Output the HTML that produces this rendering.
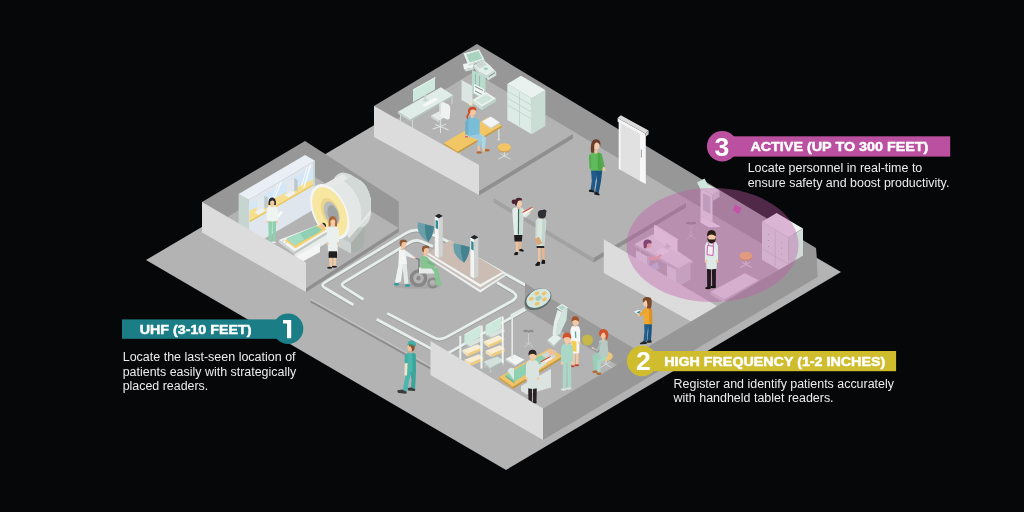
<!DOCTYPE html>
<html><head><meta charset="utf-8"><title>RFID hospital</title>
<style>
html,body{margin:0;padding:0;background:#050708;}
body{width:1024px;height:512px;overflow:hidden;font-family:"Liberation Sans",sans-serif;}
svg{display:block}
text{font-family:"Liberation Sans",sans-serif;}
</style></head><body>
<svg width="1024" height="512" viewBox="0 0 1024 512">
<rect width="1024" height="512" fill="#050708"/>
<polygon points="146.0,260.0 506.0,470.0 841.0,272.0 481.0,62.0" fill="#b3b3b3" />
<polygon points="477.0,44.0 816.0,248.0 817.5,277.0 477.0,74.0" fill="#979797" />
<polygon points="374.0,106.0 477.0,44.0 477.0,74.0 374.0,137.0" fill="#979797" />
<polygon points="202.0,202.0 305.0,141.0 305.0,171.0 202.0,232.0" fill="#979797" />
<polygon points="305.0,141.0 398.8,201.6 398.8,228.0 305.0,171.0" fill="#979797" />
<polygon points="479.0,191.0 573.0,134.0 573.0,138.5 479.0,195.5" fill="#8f8f8f" />
<polygon points="493.5,198.0 593.5,258.0 593.5,262.5 493.5,202.5" fill="#a2a2a2" />
<polygon points="593.5,258.0 686.0,203.0 686.0,207.5 593.5,262.5" fill="#8f8f8f" />
<polygon points="374.0,133.0 477.0,70.0 477.0,74.0 374.0,137.0" fill="#b3b3b3" />
<polygon points="461.5,80.0 472.5,86.0 472.5,106.0 461.5,100.0" fill="#dde5e2" />
<polygon points="472.0,70.0 485.5,77.0 485.5,100.0 472.0,93.0" fill="#b7dccd" />
<polygon points="474.0,84.0 484.0,89.0 484.0,98.0 474.0,93.0" fill="#f2f6f4" />
<polyline points="475.0,86.5 483.0,90.5" fill="none" stroke="#5d6b66" stroke-width="0.8" />
<polyline points="475.0,91.0 483.0,95.0" fill="none" stroke="#5d6b66" stroke-width="0.8" />
<polyline points="475.5,74.0 475.5,84.0" fill="none" stroke="#8fb3a5" stroke-width="0.8" />
<polyline points="479.5,76.0 479.5,86.0" fill="none" stroke="#9aa8a3" stroke-width="0.8" />
<polygon points="472.0,100.0 486.0,92.0 496.0,98.5 482.0,107.0" fill="#e9f2ee" />
<polygon points="475.5,100.5 486.0,94.5 492.5,98.5 482.0,104.5" fill="#cfe3da" />
<polygon points="472.0,100.0 482.0,107.0 482.0,110.0 472.0,103.0" fill="#cfe0d8" />
<polygon points="482.0,107.0 496.0,98.5 496.0,101.5 482.0,110.0" fill="#bcd3c9" />
<polygon points="463.0,64.0 473.6,62.0 473.6,67.5 464.0,69.5" fill="#eef4f2" />
<polygon points="464.0,69.5 473.6,67.5 473.6,69.5 466.0,71.5" fill="#cfdcd7" />
<polygon points="473.6,65.2 483.8,60.2 490.0,65.6 494.7,70.3 486.9,75.8 479.0,71.9" fill="#e3eeea" />
<polygon points="473.6,65.2 479.0,71.9 486.9,75.8 486.9,78.3 479.0,74.4 473.6,67.7" fill="#c7dbd2" />
<polygon points="486.9,75.8 494.7,70.3 496.3,72.0 496.3,75.5 488.0,80.5 486.9,78.3" fill="#d3e2dc" />
<polyline points="488.5,76.8 495.0,72.6" fill="none" stroke="#6f7d78" stroke-width="0.9" />
<polygon points="475.4,64.8 483.0,61.3 486.5,64.8 479.3,68.6" fill="#cbd6d2" />
<ellipse cx="485.8" cy="68.8" rx="2.2" ry="1.2" fill="#9fd0bd" />
<polygon points="463.4,53.5 479.0,49.2 484.5,59.4 468.1,64.5" fill="#e6f0ec" />
<polygon points="466.2,54.4 478.4,51.0 482.4,58.6 469.8,62.6" fill="#a9d4c0" />
<polygon points="468.1,64.5 484.5,59.4 484.8,60.6 468.6,65.8" fill="#c9dcd4" />
<polyline points="400.5,114.0 400.5,122.0" fill="none" stroke="#cfd8d4" stroke-width="1" />
<polyline points="412.5,120.0 412.5,128.0" fill="none" stroke="#cfd8d4" stroke-width="1" />
<polyline points="452.0,96.5 452.0,104.0" fill="none" stroke="#cfd8d4" stroke-width="1" />
<polygon points="397.9,111.8 440.9,87.3 453.2,95.2 410.6,119.6" fill="#dfece8" />
<polygon points="397.9,111.8 410.6,119.6 410.6,121.2 397.9,113.4" fill="#c3d4cd" />
<polygon points="410.6,119.6 453.2,95.2 453.2,96.8 410.6,121.2" fill="#b3c7bf" />
<polygon points="422.0,100.5 426.0,98.3 429.0,100.0 425.0,102.3" fill="#cfdcd7" />
<rect x="424.5" y="95.0" width="1.6" height="6.0" fill="#c5d6cf" />
<polygon points="413.0,89.6 435.0,77.2 435.0,89.6 413.0,102.2" fill="#cde8dd" />
<polygon points="413.0,89.6 435.0,77.2 435.8,77.7 413.8,90.1" fill="#e8f3ef" />
<polygon points="422.5,104.8 435.0,97.6 438.3,99.6 425.8,106.8" fill="#f6f9f8" />
<polyline points="440.5,118.0 440.5,127.0" fill="none" stroke="#d5dcd9" stroke-width="1.4" />
<polyline points="432.5,129.0 440.5,126.5 448.5,130.0" fill="none" stroke="#dfe5e3" stroke-width="1.1" />
<polyline points="435.0,124.5 440.5,126.5 446.0,124.0" fill="none" stroke="#dfe5e3" stroke-width="1.0" />
<polyline points="440.5,126.5 440.5,133.0" fill="none" stroke="#dfe5e3" stroke-width="1.0" />
<polygon points="431.0,115.5 441.0,110.5 449.0,115.0 439.0,120.5" fill="#e4eae8" />
<polygon points="431.0,115.5 439.0,120.5 439.0,122.5 431.0,117.5" fill="#cfd8d5" />
<path d="M439.5,106 Q439,101.5 443,102 L448.5,104.5 Q450.5,105.5 450.3,109 L449.8,117.5 Q449.5,120.5 446,119 L441,116.5 Q439.5,115.5 439.6,113 Z" fill="#eef3f1" />
<path d="M439.5,106 Q439,101.5 443,102 L441.5,103 Q440.5,104 440.7,107 L440.8,114.5 L439.6,113 Z" fill="#d2dbd8" />
<polygon points="531.7,134.2 507.3,119.9 507.3,83.9 531.7,98.2" fill="#dcebe5" />
<polygon points="531.7,134.2 545.4,126.1 545.4,90.1 531.7,98.2" fill="#c9ddd5" />
<polygon points="531.7,98.2 507.3,83.9 521.0,75.8 545.4,90.1" fill="#e9f2ee" />
<polyline points="519.5,126.1 519.5,92.1" fill="none" stroke="#b8cfc6" stroke-width="0.7" />
<polyline points="508.1,105.3 530.9,118.6" fill="none" stroke="#b8cfc6" stroke-width="0.7" />
<polyline points="508.1,98.5 530.9,111.7" fill="none" stroke="#b8cfc6" stroke-width="0.7" />
<polyline points="508.1,91.6 530.9,104.9" fill="none" stroke="#b8cfc6" stroke-width="0.7" />
<polyline points="452.5,149.0 452.5,156.0" fill="none" stroke="#c9cfcc" stroke-width="1.2" />
<polyline points="459.5,152.5 459.5,158.0" fill="none" stroke="#c9cfcc" stroke-width="1.2" />
<polyline points="498.8,127.0 498.8,139.5" fill="none" stroke="#d3d9d6" stroke-width="1.6" />
<ellipse cx="498.8" cy="139.5" rx="1.6" ry="0.9" fill="#d3d9d6" />
<polygon points="443.8,143.0 487.8,117.6 502.0,125.4 457.5,151.8" fill="#f3c665" />
<polygon points="443.8,143.0 457.5,151.8 457.5,153.6 443.8,144.8" fill="#d6a544" />
<polygon points="457.5,151.8 502.0,125.4 502.0,127.2 457.5,153.6" fill="#c99a3c" />
<polygon points="481.9,121.5 490.7,116.6 499.8,122.6 491.2,127.8" fill="#f2f5f4" />
<polygon points="481.9,121.5 491.2,127.8 491.2,129.0 481.9,122.7" fill="#d5dbd9" />
<polygon points="491.2,127.8 499.8,122.6 499.8,123.8 491.2,129.0" fill="#c5cdca" />
<polygon points="471.0,134.0 477.0,131.5 486.0,137.5 485.0,148.5 482.0,149.0 481.5,140.5 473.0,138.0" fill="#a9d6e8" />
<polygon points="468.0,133.0 474.0,130.5 482.0,136.0 480.5,146.0 477.5,146.5 477.5,139.0 469.0,137.0" fill="#9ccbe0" />
<ellipse cx="479.2" cy="152.5" rx="2.8" ry="1.3" fill="#b06a36" />
<ellipse cx="487.0" cy="150.3" rx="2.8" ry="1.3" fill="#b06a36" />
<rect x="477.6" y="146.0" width="2.2" height="5.0" fill="#f1c4a0" />
<rect x="482.6" y="148.0" width="2.2" height="3.5" fill="#f1c4a0" />
<path d="M466,121 Q466,117 470,117 L476,118 Q480,119.5 479.8,123 L479.5,134 L467,136 Z" fill="#79bdd6" />
<polygon points="465.5,121.0 468.5,120.0 468.0,135.0 465.2,135.0" fill="#6aafca" />
<ellipse cx="466.6" cy="136.0" rx="1.4" ry="1.4" fill="#f1c4a0" />
<rect x="465.0" y="136.2" width="3.0" height="1.2" fill="#c8518f" />
<rect x="470.8" y="114.0" width="2.6" height="4.0" fill="#f1c4a0" />
<ellipse cx="472.4" cy="111.6" rx="3.5" ry="3.9" fill="#f3c6a2" />
<path d="M468.2,113 Q466.8,107 472.5,106.8 Q477.5,107 476.2,111 Q473,108.5 470.5,110.5 Q470.5,114 468.8,115 Q467,117.5 468.5,119.5 Q465.8,118.5 466.5,115.5 Z" fill="#c9512e" />
<ellipse cx="470.3" cy="103.8" rx="1.5" ry="1.9" fill="#f3e8b4" />
<polyline points="504.4,148.5 504.4,156.5" fill="none" stroke="#d9dedc" stroke-width="1.3" />
<polyline points="498.4,159.0 504.4,156.0 510.4,159.0" fill="none" stroke="#d9dedc" stroke-width="1" />
<polyline points="500.4,153.5 504.4,156.0 508.4,153.5" fill="none" stroke="#d9dedc" stroke-width="0.9" />
<ellipse cx="504.4" cy="148.3" rx="6.6" ry="4.0" fill="#c99a55" />
<ellipse cx="504.4" cy="147.3" rx="6.6" ry="4.0" fill="#f3c565" />
<polygon points="238.6,194.0 248.6,199.8 248.6,248.0 238.6,242.2" fill="#c7d5d0" />
<polygon points="248.6,199.8 315.0,160.8 315.0,208.8 248.6,248.0" fill="#dfe6ed" />
<polygon points="249.6,204.0 313.2,166.6 313.2,186.0 249.6,222.3" fill="#d4e7f6" />
<polygon points="249.6,210.8 313.2,179.2 313.2,185.6 249.6,222.3" fill="#f7de8c" />
<polygon points="249.6,220.8 313.2,184.4 313.2,185.8 249.6,222.3" fill="#e6c45e" />
<polygon points="256.9,199.8 264.4,195.7 264.4,208.3 256.9,212.3" fill="#e2e8ec" />
<polygon points="264.4,195.7 267.7,197.3 267.7,208.1 264.4,208.3" fill="#bcc7ce" />
<polygon points="254.5,212.5 262.0,208.5 266.0,210.5 258.5,214.8" fill="#eef2f5" />
<polygon points="286.8,182.4 294.3,178.3 294.3,190.9 286.8,194.9" fill="#e2e8ec" />
<polygon points="294.3,178.3 297.6,179.9 297.6,190.7 294.3,190.9" fill="#bcc7ce" />
<polygon points="284.4,195.1 291.9,191.1 295.9,193.1 288.4,197.4" fill="#eef2f5" />
<polygon points="280.4,182.6 282.0,181.6 275.4,197.4 273.8,198.4" fill="#fafdff" />
<polygon points="277.4,184.4 278.4,183.8 273.0,196.8 272.0,197.4" fill="#fafdff" />
<polygon points="309.8,165.2 311.4,164.2 304.6,187.6 303.0,188.6" fill="#fafdff" />
<polygon points="306.6,167.2 307.6,166.6 302.0,186.2 301.0,186.8" fill="#fafdff" />
<polygon points="313.2,161.9 315.0,160.8 315.0,208.8 313.2,209.9" fill="#c9d6d2" />
<polygon points="238.6,194.0 305.1,155.0 315.0,160.8 248.6,199.8" fill="#e9eff4" />
<polygon points="337.5,235.3 351.0,243.0 351.4,253.8 338.2,246.7" fill="#cdd3d0" />
<polygon points="351.0,243.0 365.4,225.6 363.2,247.4 351.4,253.8" fill="#a9b0ac" />
<polygon points="337.5,235.3 352.0,226.0 365.4,225.6 351.0,243.0" fill="#bfc6c2" />
<g transform="translate(351.5,200) skewY(30.3)"><ellipse rx="19.5" ry="24.9" fill="#d9dedb"/></g>
<polygon points="321.5,185.5 343.0,174.0 371.0,198.0 370.5,214.0 349.0,238.0" fill="#e6e9e7" />
<path d="M330.5,188.5 L351.5,176.5 Q372,182 371,209 L349,238 Z" fill="#e3e7e5" />
<path d="M351.5,176.5 Q372,182 371,209 L361,222 Q364,196 344,181 Z" fill="#d3d9d6" />
<g transform="translate(329.8,211.8) skewY(30.3)"><ellipse rx="19.8" ry="25.2" fill="#f4f6f5"/><ellipse rx="17.6" ry="22.6" fill="#f8e7a1"/><ellipse cx="0.5" rx="9.6" ry="12.8" fill="#e9d58c"/><ellipse cx="1.8" cy="0.5" rx="7.8" ry="10.8" fill="#b9bcba"/><ellipse cx="3.2" cy="1" rx="5.6" ry="9" fill="#9ea2a0"/></g>
<polygon points="294.5,252.0 329.6,230.5 329.6,241.0 300.0,259.5 294.5,257.0" fill="#e9eeec" />
<polygon points="296.0,257.0 320.0,243.0 320.0,252.0 302.0,262.0" fill="#f3f6f5" />
<polygon points="278.8,240.0 321.8,223.5 329.6,230.3 294.5,251.8" fill="#f1f4f3" />
<polygon points="278.8,240.0 294.5,251.8 294.5,254.3 278.8,242.5" fill="#cfd6d3" />
<polygon points="294.5,251.8 329.6,230.3 329.6,232.8 294.5,254.3" fill="#bfc8c4" />
<polygon points="284.5,240.3 321.0,224.5 326.5,229.5 295.5,248.3" fill="#f5d06c" />
<polygon points="286.5,238.5 316.0,226.0 322.0,229.5 318.0,233.0 294.0,245.5" fill="#8fd0b4" />
<polygon points="286.5,238.5 300.0,233.0 304.0,239.5 294.0,245.5" fill="#a5dcc4" />
<ellipse cx="322.8" cy="225.8" rx="2.7" ry="2.4" fill="#f0c29c" />
<path d="M322,223 Q326.5,222 326,227.5 Q324.5,225 322,223 Z" fill="#2e2a2a" />
<polyline points="281.0,243.5 284.0,240.0" fill="none" stroke="#d5dbd8" stroke-width="1.2" />
<polyline points="283.5,245.5 286.5,242.0" fill="none" stroke="#d5dbd8" stroke-width="1.2" />
<polygon points="268.3,221.0 272.0,221.0 271.6,243.1 268.8,243.1" fill="#8fd0ae" />
<polygon points="272.4,221.0 276.1,221.0 275.6,242.2 272.8,242.2" fill="#8fd0ae" />
<ellipse cx="269.4" cy="243.3" rx="2.3" ry="0.9" fill="#e6ecea" />
<ellipse cx="273.6" cy="242.4" rx="2.3" ry="0.9" fill="#e6ecea" />
<path d="M267.0,210.0 Q267.0,206.5 269.9,206.3 L274.5,206.3 Q277.4,206.5 277.4,210.0 L276.3,221.0 L272.2,221.6 L268.1,221.0 Z" fill="#eef4f2" />
<polygon points="266.6,209.5 268.6,208.1 268.5,221.0 266.5,221.0" fill="#eef4f2" />
<polygon points="277.8,209.5 275.8,208.1 275.9,221.0 277.9,221.0" fill="#eef4f2" />
<ellipse cx="267.5" cy="221.9" rx="1.0" ry="1.3" fill="#f3caa6" />
<ellipse cx="276.9" cy="221.9" rx="1.0" ry="1.3" fill="#f3caa6" />
<rect x="271.2" y="204.4" width="2.0" height="2.8" fill="#f3caa6" />
<ellipse cx="272.6" cy="202.4" rx="2.9" ry="3.7" fill="#f3caa6" />
<path d="M268.5,205.1 Q267.8,197.5 272.2,197.4 Q276.6,197.5 275.9,205.1 L274.0,205.1 L274.4,201.9 Q273.1,199.2 270.0,201.9 L270.4,205.1 Z" fill="#2b2b30" />
<polygon points="276.5,216.0 281.0,211.0 283.0,212.0 279.0,217.5" fill="#f7faf9" />
<polygon points="328.7,242.5 332.5,242.5 332.2,267.5 329.6,267.5" fill="#f3caa6" />
<polygon points="333.1,242.5 336.9,242.5 336.0,266.4 333.4,266.4" fill="#f3caa6" />
<ellipse cx="329.7" cy="267.7" rx="2.6" ry="1.0" fill="#1e1e1e" />
<ellipse cx="334.4" cy="266.7" rx="2.6" ry="1.0" fill="#1e1e1e" />
<path d="M327.3,230.0 Q327.3,226.1 330.3,225.9 L335.3,225.9 Q338.3,226.1 338.3,230.0 L337.6,252.9 L332.8,253.5 L328.0,252.9 Z" fill="#e9f0ed" />
<polygon points="326.8,229.5 328.9,227.9 328.8,242.5 326.7,242.5" fill="#e9f0ed" />
<polygon points="338.8,229.5 336.7,227.9 336.8,242.5 338.9,242.5" fill="#e9f0ed" />
<ellipse cx="327.7" cy="243.5" rx="1.1" ry="1.5" fill="#f3caa6" />
<ellipse cx="337.9" cy="243.5" rx="1.1" ry="1.5" fill="#f3caa6" />
<rect x="331.7" y="223.8" width="2.3" height="3.1" fill="#f3caa6" />
<ellipse cx="333.2" cy="221.4" rx="3.3" ry="4.2" fill="#f3caa6" />
<path d="M328.6,226.6 Q327.9,216.0 332.8,215.9 Q337.7,216.0 337.0,226.6 L334.9,226.6 L335.2,220.9 Q333.8,217.8 330.4,220.9 L330.7,226.6 Z" fill="#a9683a" />
<rect x="328.6" y="251.3" width="8.4" height="6.5" fill="#1f1f22" />
<polygon points="310.5,298.6 430.5,365.6 430.5,367.3 310.5,300.3" fill="#c2c2c2" />
<polygon points="310.5,300.3 430.5,367.3 430.5,369.6 310.5,302.6" fill="#8d8d8d" />
<polygon points="306.0,288.2 398.8,228.0 398.8,232.0 306.0,292.2" fill="#8f8f8f" />
<path d="M353.5,305 L325,288 Q320,285.3 325,282.3 L406,233.2 Q414,228.2 423,231.4 Q434,235 445,240 L539,292.8 Q547,297.3 539,301.8 L450,352.2 Q444,355.6 438,352.4 L376.6,319.2" fill="none" stroke="#9c9f9e" stroke-width="2.7" stroke-linecap="butt" stroke-linejoin="round" transform="translate(0,1)"/>
<path d="M353.5,305 L325,288 Q320,285.3 325,282.3 L406,233.2 Q414,228.2 423,231.4 Q434,235 445,240 L539,292.8 Q547,297.3 539,301.8 L450,352.2 Q444,355.6 438,352.4 L376.6,319.2" fill="none" stroke="#e7efec" stroke-width="2.7" stroke-linecap="butt" stroke-linejoin="round"/>
<path d="M363.5,299.5 L344,287.2 Q340,284.8 344,282.4 L410.5,242 Q415.5,239 421,241.2 L433,246.5" fill="none" stroke="#9c9f9e" stroke-width="2.7" stroke-linecap="butt" stroke-linejoin="round" transform="translate(0,1)"/>
<path d="M363.5,299.5 L344,287.2 Q340,284.8 344,282.4 L410.5,242 Q415.5,239 421,241.2 L433,246.5" fill="none" stroke="#e7efec" stroke-width="2.7" stroke-linecap="butt" stroke-linejoin="round"/>
<path d="M387.3,313.4 L434,337.6 Q440,340.6 446,337.4 L512,301 Q519.5,296.5 513,292 L497,282.5" fill="none" stroke="#9c9f9e" stroke-width="2.7" stroke-linecap="butt" stroke-linejoin="round" transform="translate(0,1)"/>
<path d="M387.3,313.4 L434,337.6 Q440,340.6 446,337.4 L512,301 Q519.5,296.5 513,292 L497,282.5" fill="none" stroke="#e7efec" stroke-width="2.7" stroke-linecap="butt" stroke-linejoin="round"/>
<polygon points="450.2,240.4 505.9,275.6 480.3,292.5 424.6,256.5" fill="#edf2f0" />
<polygon points="450.2,240.4 504.7,274.4 480.3,289.9 425.8,255.3" fill="#c9bfba" />
<polygon points="450.2,240.4 503.5,273.2 480.3,287.3 427.0,254.1" fill="#f0f4f2" />
<polygon points="450.2,240.4 502.2,271.9 480.3,284.3 428.3,252.8" fill="#cbbdb4" />
<path d="M418.0,222.3 L433.8,226.5 Q433.5,235.3 428.2,242.1 Q415.4,234.1 418.0,222.3 Z" fill="#6a9faa" />
<path d="M425.0,224.2 L433.8,226.5 Q433.5,235.3 428.2,242.1 Q424.5,234.3 425.0,224.2 Z" fill="#45828f" />
<polygon points="434.8,216.0 438.8,218.2 438.8,258.0 434.8,255.8" fill="#f3f5f4" />
<polygon points="438.8,218.2 442.8,216.0 442.8,255.8 438.8,258.0" fill="#cfd4d2" />
<polygon points="434.8,216.0 438.8,213.8 442.8,216.0 438.8,218.2" fill="#1c2226" />
<polygon points="435.6,219.8 438.0,221.1 438.0,229.3 435.6,228.0" fill="#2f8a93" />
<path d="M453.8,242.9 L469.6,247.1 Q469.3,255.9 464.0,262.7 Q451.2,254.7 453.8,242.9 Z" fill="#6a9faa" />
<path d="M460.8,244.8 L469.6,247.1 Q469.3,255.9 464.0,262.7 Q460.3,254.9 460.8,244.8 Z" fill="#45828f" />
<polygon points="470.4,237.2 474.4,239.4 474.4,278.5 470.4,276.3" fill="#f3f5f4" />
<polygon points="474.4,239.4 478.4,237.2 478.4,276.3 474.4,278.5" fill="#cfd4d2" />
<polygon points="470.4,237.2 474.4,235.0 478.4,237.2 474.4,239.4" fill="#1c2226" />
<polygon points="471.2,241.0 473.6,242.3 473.6,250.5 471.2,249.2" fill="#2f8a93" />
<ellipse cx="417.0" cy="286.2" rx="23.0" ry="2.6" fill="#a6a6a6" />
<polygon points="399.0,262.0 403.5,262.0 401.0,281.5 397.0,283.0 395.0,282.0" fill="#eef3f1" />
<polygon points="402.0,262.0 406.5,262.0 408.5,283.5 404.5,284.0" fill="#e2e9e6" />
<ellipse cx="396.5" cy="284.3" rx="2.8" ry="1.2" fill="#2f9aa0" />
<ellipse cx="407.5" cy="285.5" rx="2.8" ry="1.2" fill="#2f9aa0" />
<path d="M399,250 Q402,248.5 405.5,250 L407,264 L398.5,264.5 Z" fill="#f1f5f4" />
<polygon points="404.5,251.5 406.5,251.0 414.5,257.0 414.0,258.8 405.0,255.5" fill="#e8eeec" />
<ellipse cx="415.0" cy="258.0" rx="1.2" ry="1.2" fill="#f1c4a0" />
<rect x="401.2" y="247.0" width="2.4" height="3.2" fill="#f1c4a0" />
<ellipse cx="403.2" cy="244.2" rx="3.3" ry="3.7" fill="#f3c6a2" />
<path d="M399.6,244 Q399,239.5 403.5,239.6 Q407.5,240 406.8,242.4 Q403.5,241.5 401.8,243 L401.3,246.5 Q399.9,246 399.6,244 Z" fill="#8a5a3a" />
<ellipse cx="418.5" cy="278.2" rx="7.1" ry="7.1" fill="none" stroke="#878787" stroke-width="3.5"/>
<ellipse cx="418.5" cy="278.2" rx="2.2" ry="2.2" fill="#8b8b8b" />
<ellipse cx="432.8" cy="283.0" rx="4.3" ry="4.3" fill="none" stroke="#8b8b8b" stroke-width="2.4"/>
<polyline points="415.5,258.5 419.0,259.2 419.0,272.0" fill="none" stroke="#6f7574" stroke-width="1.2" />
<polygon points="419.0,267.5 436.0,267.5 436.0,273.5 419.0,273.5" fill="#e6ebea" />
<polyline points="436.0,273.5 436.5,281.0" fill="none" stroke="#9a9f9d" stroke-width="1" />
<polygon points="431.0,268.0 437.5,268.0 441.0,282.5 442.5,285.2 436.5,285.5 434.0,272.0" fill="#86c592" />
<path d="M420.5,257 Q424,254.5 428,257.5 L433.5,266 L436,268.5 L421,268.5 Z" fill="#86c592" />
<polygon points="428.0,260.0 435.5,264.5 434.8,266.3 427.0,263.5" fill="#79b886" />
<rect x="423.6" y="252.8" width="2.6" height="3.4" fill="#f1c4a0" />
<ellipse cx="425.6" cy="250.2" rx="3.3" ry="3.7" fill="#f3c6a2" />
<path d="M422,250 Q421.3,245.5 426,245.6 Q430,246 429.2,248.5 Q426,247.5 424.2,249 L423.8,252.6 Q422.2,252 422,250 Z" fill="#8a5a3a" />
<polygon points="515.6,241.0 518.6,241.0 518.2,252.6 516.0,252.6" fill="#eec3a0" />
<polygon points="519.0,241.0 521.6,241.0 521.4,249.2 519.4,249.2" fill="#e6b791" />
<polygon points="514.2,253.4 516.0,251.8 518.4,252.6 517.6,255.0 514.4,255.2" fill="#17171a" />
<polygon points="519.2,249.4 521.6,248.8 523.8,250.6 523.4,251.8 519.4,251.0" fill="#17171a" />
<polygon points="514.0,234.6 522.4,234.6 521.8,241.6 514.6,241.6" fill="#1c1c1f" />
<path d="M512.3,210.8 Q512.4,207.8 515.4,207.5 L520.6,207.4 Q523.6,207.8 523.8,210.8 L522.6,235 L514,235 Z" fill="#e3ece8" />
<polygon points="519.4,207.5 523.2,208.6 522.6,235.0 519.2,235.0" fill="#cbdad3" />
<polyline points="518.6,208.6 518.4,234.6" fill="none" stroke="#2f6d58" stroke-width="1.2" />
<polygon points="521.4,209.6 523.8,209.2 525.6,214.6 529.2,211.6 530.2,213.4 525.6,217.8 523.4,216.6" fill="#dbe6e1" />
<ellipse cx="529.8" cy="212.2" rx="1.3" ry="1.1" fill="#eec3a0" />
<polygon points="522.6,212.4 532.4,207.2 533.4,208.8 524.0,215.8" fill="#f8f4ef" />
<polyline points="522.6,212.4 532.4,207.2" fill="none" stroke="#d2503a" stroke-width="1.1" />
<rect x="517.4" y="205.8" width="2.6" height="3.0" fill="#e8bb95" />
<ellipse cx="519.2" cy="203.6" rx="2.7" ry="3.4" fill="#f3cdae" />
<path d="M514.6,203.6 Q513.8,198.4 518.8,197.8 Q522.6,198 522.2,200.6 Q519.6,199.8 517.8,201.4 Q516.8,204.4 516.2,206 Q514.8,205.4 514.6,203.6 Z" fill="#4a2231" />
<ellipse cx="513.8" cy="201.8" rx="2.2" ry="2.2" fill="#4a2231" />
<polygon points="537.9,247.6 540.8,247.6 540.2,262.4 538.2,262.4" fill="#eec3a0" />
<polygon points="541.9,247.6 544.9,247.6 544.4,260.6 542.4,260.6" fill="#e6b791" />
<polygon points="535.4,264.4 538.0,261.4 540.2,262.2 539.6,265.8 535.6,266.0" fill="#17171a" />
<polygon points="541.4,262.0 542.6,259.4 545.0,260.2 545.2,263.8 541.6,264.0" fill="#17171a" />
<path d="M536,221.6 Q536.2,218.6 539,218.4 L543.4,218.4 Q546.2,218.8 546.3,221.8 L544.2,246.4 L537,246.4 Z" fill="#d8e6e0" />
<polygon points="542.4,218.4 545.8,219.4 544.2,246.4 541.6,246.4" fill="#c3d5cd" />
<rect x="536.6" y="246.0" width="7.6" height="2.0" fill="#24262a" />
<polygon points="534.4,239.0 538.8,236.8 542.2,243.0 538.0,245.4" fill="#d9a773" />
<polygon points="535.6,221.4 537.6,220.6 537.4,238.0 535.4,238.6" fill="#cddcd5" />
<rect x="539.8" y="216.4" width="2.6" height="2.6" fill="#e8bb95" />
<path d="M537.8,214.6 Q537.4,210 541.8,210 Q546.4,210.4 546,215 Q545.8,218 543.6,218.4 L540,218.2 Q538,217.6 537.8,214.6 Z" fill="#2c2f33" />
<ellipse cx="544.2" cy="211.4" rx="2.3" ry="1.9" fill="#2c2f33" />
<polygon points="618.8,120.5 640.0,132.2 640.0,180.9 618.8,169.0" fill="#e1e1e1" />
<polygon points="640.0,132.2 645.8,135.5 645.8,184.0 640.0,180.9" fill="#f7f7f7" />
<polygon points="618.8,120.5 620.6,121.5 620.6,170.0 618.8,169.0" fill="#f7f7f7" />
<polygon points="617.6,118.0 645.4,133.4 645.4,137.0 617.6,121.6" fill="#f4f4f4" />
<polygon points="617.6,118.0 620.8,115.2 648.6,130.6 645.4,133.4" fill="#dadada" />
<polygon points="645.4,133.4 648.6,130.6 648.6,134.2 645.4,137.0" fill="#c9c9c9" />
<rect x="640.8" y="149.5" width="1.0" height="8.0" fill="#9b9b9b" />
<polygon points="591.0,170.0 597.5,170.0 595.5,182.0 594.2,191.5 590.4,190.5 591.8,181.0" fill="#1f5c8c" />
<polygon points="595.5,170.0 602.3,170.0 601.0,181.0 598.6,194.0 595.0,193.0 597.0,181.0" fill="#1a5280" />
<polygon points="588.8,190.0 591.5,189.5 594.6,191.2 594.4,192.6 589.2,191.8" fill="#1b1b1d" />
<polygon points="594.0,192.5 596.5,192.0 599.6,194.0 599.3,195.4 594.4,194.6" fill="#1b1b1d" />
<path d="M589.6,156.5 Q589.6,153.2 593,152.8 L598.5,152.6 Q601.6,153 601.8,156 L602.4,170.6 L590.4,170.8 Z" fill="#60b95a" />
<polygon points="597.5,152.8 601.6,154.0 602.4,170.6 598.0,170.7" fill="#4fa64a" />
<polygon points="600.2,154.5 602.0,155.0 604.8,166.8 602.6,167.6 600.2,160.0" fill="#55ad50" />
<ellipse cx="604.0" cy="169.3" rx="1.4" ry="2.2" fill="#f0c9a8" />
<polygon points="589.0,155.0 591.0,154.6 591.4,168.0 589.4,168.5" fill="#55ad50" />
<rect x="594.6" y="149.5" width="2.8" height="4.0" fill="#eec3a0" />
<ellipse cx="596.6" cy="146.0" rx="2.9" ry="3.6" fill="#f3cdae" />
<path d="M591,152.6 Q589.8,139 596,139.2 Q601.6,139.4 600.4,146.5 Q599.6,142.5 596.4,142.2 Q594,143 594.2,147.5 Q594.5,151.5 593.6,153 Z" fill="#6b3d2a" />
<polygon points="406.0,371.0 411.5,371.0 408.8,382.0 407.2,391.6 402.6,390.6 404.6,381.0" fill="#4bb6ad" />
<polygon points="410.0,371.0 415.9,371.0 415.6,381.0 415.0,389.6 410.6,389.0 411.6,380.0" fill="#3da49c" />
<polygon points="397.0,390.6 402.0,389.4 406.8,391.8 406.2,393.7 398.4,393.1" fill="#3a3a3a" />
<polygon points="407.6,388.0 411.0,387.4 415.4,389.3 414.9,391.0 408.1,390.4" fill="#3a3a3a" />
<path d="M405.8,356 Q406,352.8 409.5,352.6 L413,352.8 Q415.8,353.3 415.9,356.5 L416,372 L405.8,372 Z" fill="#4bb6ad" />
<polygon points="412.2,352.8 415.6,353.8 416.0,372.0 412.6,372.0" fill="#3da49c" />
<polygon points="404.6,355.6 407.4,354.0 407.8,363.2 404.8,363.6" fill="#43ada4" />
<polygon points="404.7,363.4 407.6,363.0 407.0,375.6 404.5,375.6" fill="#f5e3c8" />
<rect x="409.3" y="349.6" width="2.6" height="3.6" fill="#e2ad82" />
<ellipse cx="410.4" cy="347.7" rx="3.0" ry="3.6" fill="#f0c29c" />
<path d="M409,346.2 Q408.6,343 412,343.2 Q415.2,343.6 414.7,348 Q414.3,351.6 411.6,351.4 Q412.2,348.2 410.6,346.6 Z" fill="#8a5030" />
<path d="M407.5,344.8 Q407.3,340.5 412,340.7 Q416.3,341.1 415.9,346 Q411.6,343.4 407.5,344.8 Z" fill="#3fb0a8" />
<polyline points="407.7,344.6 415.8,345.8" fill="none" stroke="#2f9a92" stroke-width="0.8" />
<polygon points="700.5,188.5 708.0,184.5 719.5,190.5 712.5,195.0" fill="#dfe9e6" />
<polygon points="700.5,188.5 712.5,195.0 712.5,222.0 700.5,216.0" fill="#e6eeeb" />
<polygon points="703.0,193.0 710.5,197.0 710.5,214.0 703.0,210.0" fill="#bfc9c6" />
<polygon points="712.5,195.0 719.5,190.5 719.5,197.0 712.5,201.0" fill="#ccd8d4" />
<polygon points="700.5,216.0 712.5,222.0 721.0,227.0 709.0,227.5 700.5,222.5" fill="#eef3f1" />
<polygon points="697.0,182.5 704.5,178.5 709.0,187.0 701.5,191.0" fill="#cfe6dc" />
<polygon points="735.0,204.5 741.5,208.0 739.0,214.0 732.8,210.5" fill="#c24fa9" />
<polygon points="634.5,244.0 653.0,234.2 693.1,261.5 679.5,269.3" fill="#e4e9e7" />
<polygon points="634.5,244.0 679.5,269.3 679.5,271.3 634.5,246.0" fill="#c7cfcc" />
<polygon points="679.5,269.3 693.1,261.5 693.1,263.5 679.5,271.3" fill="#b7c0bc" />
<polygon points="676.0,269.5 690.5,261.5 690.5,279.5 676.0,287.5" fill="#c9d0cd" />
<polygon points="667.0,265.0 676.0,269.5 676.0,287.5 667.0,283.0" fill="#dfe5e3" />
<polyline points="640.0,249.5 640.0,262.0" fill="none" stroke="#cfd5d3" stroke-width="1" />
<polygon points="654.0,225.4 677.5,240.0 677.5,252.7 654.0,238.0" fill="#eef3f1" />
<polygon points="654.0,225.4 655.0,224.8 678.5,239.4 677.5,240.0" fill="#f3f6f5" />
<polygon points="663.5,247.0 668.0,244.5 671.5,246.5 667.0,249.0" fill="#d4dbd8" />
<rect x="666.2" y="243.0" width="1.6" height="5.0" fill="#cfd6d3" />
<polygon points="655.5,251.5 663.0,247.5 669.5,251.5 662.0,255.5" fill="#f4f7f6" />
<polygon points="636.0,250.5 647.5,256.5 647.5,269.5 636.0,263.5" fill="#e3e8e6" />
<polygon points="647.5,256.5 649.5,255.3 649.5,268.3 647.5,269.5" fill="#c8cfcc" />
<polygon points="650.0,256.0 656.0,257.5 661.0,254.0 661.8,255.8 656.5,260.2 650.0,260.0" fill="#f0b59e" />
<polygon points="649.0,266.5 657.5,262.0 659.0,268.5 651.0,272.5" fill="#b9d0e0" />
<ellipse cx="647.6" cy="244.6" rx="3.6" ry="3.8" fill="#f1c4a0" />
<path d="M643.5,245.5 Q642.5,239.5 648,239.6 Q652.5,240 651.4,243.6 Q648.5,242.5 647,244.2 Q647,248.5 644.8,248.6 Q643.4,247.8 643.5,245.5 Z" fill="#5a3752" />
<polyline points="691.0,224.0 691.0,236.0" fill="none" stroke="#c9cccb" stroke-width="1" />
<polyline points="686.5,239.0 691.0,236.0 695.5,239.0" fill="none" stroke="#c9cccb" stroke-width="1" />
<polyline points="688.0,234.5 691.0,236.0 694.0,234.5" fill="none" stroke="#c9cccb" stroke-width="0.8" />
<ellipse cx="688.4" cy="223.0" rx="2.6" ry="1.3" fill="#8e8e8e" />
<ellipse cx="693.6" cy="223.0" rx="2.6" ry="1.3" fill="#8e8e8e" />
<rect x="690.4" y="223.0" width="1.2" height="2.0" fill="#8e8e8e" />
<polyline points="745.9,257.0 745.9,265.0" fill="none" stroke="#e3e6e5" stroke-width="1.3" />
<polyline points="739.9,267.5 745.9,264.5 751.9,267.5" fill="none" stroke="#e3e6e5" stroke-width="1" />
<polyline points="741.9,262.0 745.9,264.5 749.9,262.0" fill="none" stroke="#e3e6e5" stroke-width="0.9" />
<ellipse cx="745.9" cy="256.8" rx="6.6" ry="4.0" fill="#c99a55" />
<ellipse cx="745.9" cy="255.8" rx="6.6" ry="4.0" fill="#f3c565" />
<polygon points="788.4,275.2 762.0,259.8 762.0,221.8 788.4,237.2" fill="#dfe9e6" />
<polygon points="788.4,275.2 803.0,266.6 803.0,228.6 788.4,237.2" fill="#cfdcd8" />
<polygon points="788.4,237.2 762.0,221.8 776.6,213.1 803.0,228.6" fill="#ecf3f0" />
<polyline points="775.2,266.5 775.2,230.5" fill="none" stroke="#b8cfc6" stroke-width="0.7" />
<polyline points="762.8,249.2 787.6,263.7" fill="none" stroke="#b8cfc6" stroke-width="0.7" />
<ellipse cx="768.5" cy="246.5" rx="0.5" ry="0.5" fill="#7fa89a" />
<ellipse cx="781.5" cy="254.0" rx="0.5" ry="0.5" fill="#7fa89a" />
<ellipse cx="768.5" cy="240.5" rx="0.5" ry="0.5" fill="#7fa89a" />
<ellipse cx="781.5" cy="248.0" rx="0.5" ry="0.5" fill="#7fa89a" />
<ellipse cx="768.5" cy="234.5" rx="0.5" ry="0.5" fill="#7fa89a" />
<ellipse cx="781.5" cy="242.0" rx="0.5" ry="0.5" fill="#7fa89a" />
<polygon points="710.7,291.8 744.9,273.2 758.6,280.2 724.4,299.5" fill="#e5e8e7" />
<polygon points="710.7,291.8 724.4,299.5 724.4,302.5 710.7,294.8" fill="#cdd2d0" />
<polygon points="724.4,299.5 758.6,280.2 758.6,283.2 724.4,302.5" fill="#bfc5c2" />
<polygon points="525.0,283.0 640.0,352.0 640.0,379.0 525.0,309.0" fill="#9a9a9a" />
<polygon points="505.4,359.0 514.3,354.5 524.5,359.7 515.7,365.2" fill="#f2f5f4" />
<polygon points="505.4,359.0 515.7,365.2 515.7,366.6 505.4,360.4" fill="#cfd5d3" />
<polyline points="512.2,315.5 512.2,359.0" fill="none" stroke="#e3e9e7" stroke-width="1.6" />
<polygon points="510.6,314.3 524.5,306.8 524.5,309.8 510.6,317.3" fill="#dfe9e5" />
<g transform="translate(538,299.2) rotate(-28) scale(1.13)"><ellipse rx="12.6" ry="8.6" fill="#5f6c6c"/><ellipse cx="0.8" cy="-0.6" rx="11.4" ry="7.6" fill="#d3e7e0"/><ellipse cx="0.8" cy="-0.6" rx="3" ry="2" fill="#a9cfc2"/><ellipse cx="-5" cy="-3" rx="2.3" ry="1.5" fill="#f1c468"/><ellipse cx="1.5" cy="-5" rx="2.3" ry="1.5" fill="#f1c468"/><ellipse cx="7.2" cy="-2" rx="2.3" ry="1.5" fill="#f1c468"/><ellipse cx="5" cy="2.8" rx="2.3" ry="1.5" fill="#f1c468"/><ellipse cx="-2.5" cy="3.2" rx="2.3" ry="1.5" fill="#f1c468"/></g>
<polygon points="547.5,340.0 555.0,333.8 561.3,338.0 553.8,345.5" fill="#e3efeb" />
<polygon points="547.5,340.0 553.8,345.5 553.8,347.0 547.5,341.5" fill="#c1d4cc" />
<polygon points="553.8,345.5 561.3,338.0 561.3,339.5 553.8,347.0" fill="#b3c8c0" />
<polygon points="562.0,312.0 567.5,308.5 566.5,320.0 560.0,333.8 555.5,336.3 557.5,323.8" fill="#cfe4dc" />
<polygon points="557.5,310.0 562.0,312.0 557.5,323.8 555.5,336.3 552.5,334.5 554.0,322.0" fill="#e4efeb" />
<polygon points="556.3,307.5 562.0,303.8 568.0,307.5 562.5,312.0" fill="#e1ede9" />
<polygon points="558.2,307.6 562.0,305.2 565.8,307.6 562.3,310.4" fill="#b3d5c9" />
<polyline points="528.5,332.0 528.5,344.0" fill="none" stroke="#c9cccb" stroke-width="1" />
<polyline points="524.0,347.0 528.5,344.0 533.0,347.0" fill="none" stroke="#c9cccb" stroke-width="1" />
<polyline points="525.5,342.5 528.5,344.0 531.5,342.5" fill="none" stroke="#c9cccb" stroke-width="0.8" />
<ellipse cx="525.9" cy="331.0" rx="2.6" ry="1.3" fill="#8e8e8e" />
<ellipse cx="531.1" cy="331.0" rx="2.6" ry="1.3" fill="#8e8e8e" />
<rect x="527.9" y="331.0" width="1.2" height="2.0" fill="#8e8e8e" />
<polyline points="460.3,335.8 460.3,359.5" fill="none" stroke="#e9f1ee" stroke-width="2" />
<polygon points="464.4,359.7 478.7,354.2 483.5,357.7 470.5,363.1" fill="#f8edd2" />
<polygon points="464.4,359.7 470.5,363.1 470.5,366.0 464.4,362.4" fill="#f3e2b8" />
<polygon points="470.5,363.1 483.5,357.7 483.5,360.6 470.5,366.0" fill="#f0cd7c" />
<polygon points="461.5,350.8 477.4,344.2 483.6,347.8 467.8,354.6" fill="#e3eeea" />
<polygon points="463.0,350.1 477.4,344.7 482.1,347.4 467.8,353.6" fill="#f8edd2" />
<polygon points="463.0,350.1 467.8,353.6 467.8,356.4 463.0,352.8" fill="#f3e2b8" />
<polygon points="467.8,353.6 482.1,347.4 482.1,350.2 467.8,356.4" fill="#f0cd7c" />
<polygon points="465.5,343.5 480.5,337.5 484.0,339.8 470.5,346.5" fill="#d7e4df" />
<polygon points="465.5,343.5 470.5,346.5 470.5,347.8 465.5,344.8" fill="#bdd0c8" />
<polygon points="464.4,334.4 480.1,325.5 480.1,337.1 464.4,344.7" fill="#cde8dd" />
<polygon points="464.4,334.4 480.1,325.5 480.8,326.0 465.1,334.9" fill="#e8f4ef" />
<polyline points="481.5,325.5 481.5,368.6" fill="none" stroke="#eef4f2" stroke-width="2" />
<polyline points="481.5,326.9 481.5,350.6" fill="none" stroke="#e9f1ee" stroke-width="2" />
<polygon points="483.7,361.4 497.4,356.6 504.2,360.6 489.9,368.2" fill="#d3e0db" />
<polygon points="483.7,361.4 489.9,368.2 489.9,369.8 483.7,363.0" fill="#b9cbc4" />
<polygon points="489.9,368.2 504.2,360.6 504.2,362.2 489.9,369.8" fill="#a9bdb5" />
<polyline points="485.2,364.1 485.2,367.6" fill="none" stroke="#c9d6d1" stroke-width="1" />
<polyline points="490.7,369.6 490.7,372.6" fill="none" stroke="#c9d6d1" stroke-width="1" />
<polyline points="503.2,362.1 503.2,365.6" fill="none" stroke="#c9d6d1" stroke-width="1" />
<polygon points="485.6,350.8 499.9,345.3 504.7,348.8 491.7,354.2" fill="#f8edd2" />
<polygon points="485.6,350.8 491.7,354.2 491.7,357.1 485.6,353.5" fill="#f3e2b8" />
<polygon points="491.7,354.2 504.7,348.8 504.7,351.7 491.7,357.1" fill="#f0cd7c" />
<polygon points="482.7,341.9 498.6,335.3 504.8,338.9 489.0,345.7" fill="#e3eeea" />
<polygon points="484.2,341.2 498.6,335.8 503.3,338.5 489.0,344.7" fill="#f8edd2" />
<polygon points="484.2,341.2 489.0,344.7 489.0,347.5 484.2,343.9" fill="#f3e2b8" />
<polygon points="489.0,344.7 503.3,338.5 503.3,341.3 489.0,347.5" fill="#f0cd7c" />
<polygon points="486.7,334.6 501.7,328.6 505.2,330.9 491.7,337.6" fill="#d7e4df" />
<polygon points="486.7,334.6 491.7,337.6 491.7,338.9 486.7,335.9" fill="#bdd0c8" />
<polygon points="485.6,325.5 501.3,316.6 501.3,328.2 485.6,335.8" fill="#cde8dd" />
<polygon points="485.6,325.5 501.3,316.6 502.0,317.1 486.3,326.0" fill="#e8f4ef" />
<polyline points="502.7,316.6 502.7,363.1" fill="none" stroke="#eef4f2" stroke-width="2" />
<polygon points="521.0,386.0 551.0,369.0 551.0,387.5 527.0,394.5 521.0,391.0" fill="#dde3e1" />
<polygon points="499.2,377.0 550.0,348.2 562.7,356.2 512.9,386.8" fill="#f0c467" />
<polygon points="499.2,377.0 512.9,386.8 512.9,389.0 499.2,379.2" fill="#d6a646" />
<polygon points="512.9,386.8 562.7,356.2 562.7,358.4 512.9,389.0" fill="#c7983d" />
<polygon points="505.5,375.0 541.0,355.0 550.0,360.5 514.5,381.5" fill="#8fd0b2" />
<polygon points="505.5,375.0 514.5,381.5 514.5,383.5 505.5,377.0" fill="#73b597" />
<path d="M507.5,371 Q510,366 514,368.5 L514,380 Z" fill="#d9ebe4" />
<polygon points="541.0,355.0 548.0,351.0 557.0,356.5 550.0,360.5" fill="#cfd8d5" />
<ellipse cx="551.5" cy="352.2" rx="3.3" ry="2.8" fill="#f1c09a" />
<path d="M553.5,349.5 Q557.5,350.5 556,354.5 Q555.5,351.5 553.5,349.5 Z" fill="#c9cfcc" />
<polygon points="571.9,342.0 575.0,342.0 574.7,366.0 572.2,366.0" fill="#f3caa6" />
<polygon points="575.5,342.0 578.7,342.0 578.4,365.0 575.9,365.0" fill="#f3caa6" />
<ellipse cx="572.3" cy="366.2" rx="2.5" ry="1.0" fill="#c2402f" />
<ellipse cx="576.8" cy="365.2" rx="2.5" ry="1.0" fill="#c2402f" />
<path d="M570.8,330.0 Q570.8,326.2 573.3,326.0 L577.3,326.0 Q579.8,326.2 579.8,330.0 L579.2,353.0 L575.3,353.6 L571.4,353.0 Z" fill="#f4f7f6" />
<polygon points="570.5,329.5 572.2,328.0 572.1,342.0 570.4,342.0" fill="#f4f7f6" />
<polygon points="580.1,329.5 578.4,328.0 578.5,342.0 580.2,342.0" fill="#f4f7f6" />
<ellipse cx="571.2" cy="343.0" rx="1.1" ry="1.4" fill="#f3caa6" />
<ellipse cx="579.4" cy="343.0" rx="1.1" ry="1.4" fill="#f3caa6" />
<rect x="574.2" y="324.0" width="2.2" height="3.0" fill="#f3caa6" />
<ellipse cx="575.7" cy="321.8" rx="3.2" ry="4.0" fill="#f3caa6" />
<path d="M571.6,321.8 Q571.0,316.2 575.3,316.2 Q579.5,316.2 579.0,321.8 Q575.3,318.2 571.6,321.8 Z" fill="#a5512d" />
<polyline points="575.5,331.5 575.8,338.0" fill="none" stroke="#49a7a0" stroke-width="1.2" />
<polygon points="572.0,340.5 576.5,341.5 576.5,352.0 572.0,351.0" fill="#f2cf52" />
<polygon points="562.9,362.0 566.7,362.0 566.3,389.4 562.8,389.4" fill="#a9d8c6" />
<polygon points="567.3,362.0 571.1,362.0 571.2,388.2 567.7,388.2" fill="#a9d8c6" />
<ellipse cx="563.6" cy="389.6" rx="2.9" ry="1.1" fill="#dfe8e5" />
<ellipse cx="568.7" cy="388.5" rx="2.9" ry="1.1" fill="#dfe8e5" />
<path d="M561.6,348.3 Q561.6,344.0 564.6,343.8 L569.4,343.8 Q572.4,344.0 572.4,348.3 L571.3,362.0 L567.0,362.7 L562.7,362.0 Z" fill="#a9d8c6" />
<polygon points="561.1,347.8 563.2,346.0 563.1,362.0 561.0,362.0" fill="#a9d8c6" />
<polygon points="572.9,347.8 570.8,346.0 570.9,362.0 573.0,362.0" fill="#a9d8c6" />
<ellipse cx="562.0" cy="363.1" rx="1.3" ry="1.6" fill="#f3caa6" />
<ellipse cx="572.0" cy="363.1" rx="1.3" ry="1.6" fill="#f3caa6" />
<rect x="565.7" y="341.5" width="2.5" height="3.4" fill="#f3caa6" />
<ellipse cx="567.5" cy="338.9" rx="3.6" ry="4.6" fill="#f3caa6" />
<path d="M562.8,338.9 Q562.2,332.6 567.0,332.6 Q571.8,332.6 571.2,338.9 Q567.0,334.9 562.8,338.9 Z" fill="#d0512c" />
<g transform="translate(13,-0.5)">
<polyline points="593.0,357.5 593.0,365.5" fill="none" stroke="#d5dbd9" stroke-width="1.3" />
<polyline points="587.0,368.0 593.0,365.0 599.0,368.0" fill="none" stroke="#d5dbd9" stroke-width="1" />
<polyline points="589.0,362.5 593.0,365.0 597.0,362.5" fill="none" stroke="#d5dbd9" stroke-width="0.9" />
<ellipse cx="593.0" cy="357.3" rx="6.6" ry="4.0" fill="#efc777" />
<ellipse cx="593.0" cy="356.3" rx="6.6" ry="4.0" fill="#efc777" />
<polygon points="583.5,357.5 590.0,354.0 594.0,356.5 593.0,360.0 588.0,362.5 587.5,372.0 584.0,373.0" fill="#a9d8c6" />
<polygon points="579.5,356.0 586.0,352.5 590.0,355.0 589.0,358.5 584.5,361.0 584.0,370.0 580.5,371.0" fill="#9ccdb9" />
<ellipse cx="582.0" cy="372.3" rx="2.6" ry="1.2" fill="#b5652f" />
<ellipse cx="585.8" cy="374.3" rx="2.6" ry="1.2" fill="#b5652f" />
<path d="M586,341.5 Q590,339 594.5,341.5 L595.5,356.5 L586.5,358 Z" fill="#b9c9c4" />
<polygon points="586.5,343.5 588.5,343.0 584.5,352.0 580.0,349.5 580.8,348.0 584.0,349.5" fill="#a9bbb5" />
<ellipse cx="579.8" cy="348.5" rx="1.2" ry="1.0" fill="#f1c4a0" />
<rect x="589.0" y="337.5" width="2.6" height="3.5" fill="#f1c4a0" />
<ellipse cx="590.0" cy="334.5" rx="3.5" ry="3.9" fill="#f3c6a2" />
<path d="M586.3,336 Q585,329.5 590.5,329.5 Q596.5,330 595,337.5 Q594.5,340.5 592.8,341 Q593.5,335.5 591,333 Q588.5,333 587.8,336.5 Q587,338.5 586.3,336 Z" fill="#d0512c" />
</g>
<ellipse cx="587.5" cy="340.0" rx="5.5" ry="5.5" fill="#cdbc3a" fill-opacity="0.85"/>
<polygon points="528.0,377.5 532.2,377.5 531.9,403.4 528.5,403.4" fill="#2a2126" />
<polygon points="532.8,377.5 537.0,377.5 536.5,402.3 533.1,402.3" fill="#2a2126" />
<ellipse cx="529.3" cy="403.7" rx="2.7" ry="1.1" fill="#1b1b1b" />
<ellipse cx="534.1" cy="402.6" rx="2.7" ry="1.1" fill="#1b1b1b" />
<path d="M526.5,364.5 Q526.5,360.5 529.8,360.2 L535.2,360.2 Q538.5,360.5 538.5,364.5 L537.7,388.3 L532.5,388.9 L527.3,388.3 Z" fill="#d9e3df" />
<polygon points="526.0,364.0 528.3,362.4 528.1,377.5 525.8,377.5" fill="#d9e3df" />
<polygon points="539.0,364.0 536.7,362.4 536.9,377.5 539.2,377.5" fill="#d9e3df" />
<ellipse cx="526.9" cy="378.6" rx="1.2" ry="1.5" fill="#f3caa6" />
<ellipse cx="538.1" cy="378.6" rx="1.2" ry="1.5" fill="#f3caa6" />
<rect x="531.3" y="358.1" width="2.4" height="3.2" fill="#f3caa6" />
<ellipse cx="532.9" cy="355.6" rx="3.5" ry="4.3" fill="#f3caa6" />
<path d="M528.5,355.6 Q527.9,349.7 532.5,349.7 Q537.1,349.7 536.5,355.6 Q532.5,351.9 528.5,355.6 Z" fill="#2c2624" />
<polygon points="540.5,362.0 550.5,356.5 553.0,358.2 543.5,364.5" fill="#f6f1ec" />
<polyline points="540.5,362.0 550.5,356.5" fill="none" stroke="#d4503c" stroke-width="1.1" />
<polygon points="537.0,366.0 545.0,361.0 546.0,364.0 538.5,369.5" fill="#d9e3df" />
<polygon points="202.0,202.0 306.0,262.5 306.0,292.0 202.0,232.5" fill="#dcdcdc" />
<polygon points="374.0,106.0 479.0,165.0 479.0,195.0 374.0,137.0" fill="#dcdcdc" />
<polygon points="430.5,341.0 543.0,408.5 543.0,440.0 430.5,375.0" fill="#dcdcdc" />
<polygon points="603.8,239.3 717.0,306.0 717.0,336.0 603.8,273.0" fill="#dcdcdc" />
<polygon points="543.0,408.5 816.0,248.0 817.5,277.0 543.0,440.0" fill="#979797" />
<polygon points="644.2,323.0 648.6,323.0 647.4,333.0 646.8,341.8 643.4,341.4 644.4,332.0" fill="#1f6090" />
<polygon points="648.0,323.0 652.0,323.0 651.6,332.0 651.0,340.8 647.4,340.4 648.4,331.0" fill="#1a5480" />
<polygon points="639.8,343.2 643.6,341.1 646.9,342.0 646.6,344.5 640.4,344.9" fill="#23262a" />
<polygon points="647.0,340.4 651.2,340.0 651.8,342.5 647.2,342.9" fill="#23262a" />
<polyline points="640.0,344.9 646.6,344.6" fill="none" stroke="#e9eceb" stroke-width="0.7" />
<path d="M643.6,311 Q643.8,307.8 647,307.6 L649.5,307.8 Q652,308.3 652.2,311.5 L652.4,324.2 L643.8,324.2 Z" fill="#f0a830" />
<polygon points="649.0,307.8 652.0,309.0 652.4,324.2 649.4,324.2" fill="#d8922a" />
<polygon points="644.0,309.4 646.9,311.2 640.6,316.5 638.6,314.6" fill="#eea42c" />
<ellipse cx="638.7" cy="315.2" rx="1.3" ry="1.1" fill="#f0c6a2" />
<polygon points="634.0,311.8 638.5,309.8 642.0,311.8 637.5,314.0" fill="#f2f6f5" />
<polygon points="636.5,312.2 639.5,310.9 641.2,312.0 638.2,313.4" fill="#2f8f9a" />
<rect x="646.0" y="304.6" width="2.4" height="3.6" fill="#e8bb95" />
<ellipse cx="646.2" cy="302.9" rx="3.0" ry="3.7" fill="#f3cdae" />
<path d="M645.2,299.6 Q646,297 649,297.3 Q652.3,298 651.7,303 Q651.9,307 650.4,308.7 L646.8,308.3 Q648.1,305 647,302 Q646.6,300.4 645.2,299.6 Z" fill="#7a4a2a" />
<path d="M642.7,301.6 Q642.4,297.1 647,297.1 Q649.2,297.2 649.2,299.2 Q645.6,298.9 643.9,302.5 Z" fill="#7a4a2a" />
<ellipse cx="712.5" cy="245.0" rx="86.0" ry="57.0" fill="#c059a9" fill-opacity="0.4"/>
<polygon points="707.0,260.0 711.2,260.0 710.8,287.8 707.2,287.8" fill="#20191d" />
<polygon points="711.8,260.0 716.0,260.0 715.8,286.7 712.2,286.7" fill="#20191d" />
<ellipse cx="708.0" cy="288.1" rx="2.9" ry="1.2" fill="#141414" />
<ellipse cx="713.2" cy="287.0" rx="2.9" ry="1.2" fill="#141414" />
<path d="M705.5,246.1 Q705.5,241.7 708.8,241.4 L714.2,241.4 Q717.5,241.7 717.5,246.1 L716.6,268.7 L711.5,269.4 L706.4,268.7 Z" fill="#dfe9e5" />
<polygon points="705.0,245.5 707.3,243.8 707.2,260.0 704.9,260.0" fill="#dfe9e5" />
<polygon points="718.0,245.5 715.7,243.8 715.8,260.0 718.1,260.0" fill="#dfe9e5" />
<ellipse cx="706.0" cy="261.2" rx="1.3" ry="1.6" fill="#f3caa6" />
<ellipse cx="717.0" cy="261.2" rx="1.3" ry="1.6" fill="#f3caa6" />
<rect x="710.2" y="239.1" width="2.6" height="3.5" fill="#f3caa6" />
<ellipse cx="712.0" cy="236.5" rx="3.7" ry="4.6" fill="#f3caa6" />
<path d="M707.2,236.5 Q706.6,230.1 711.5,230.1 Q716.4,230.1 715.8,236.5 Q711.5,232.4 707.2,236.5 Z" fill="#2a1d17" />
<path d="M707.3,237.2 Q707.3,243.2 711.8,243.6 Q716,243.2 715.8,237.2 L714.6,239.4 L708.8,239.4 Z" fill="#2a1d17" />
<polygon points="707.5,245.5 713.5,246.3 713.0,255.5 707.0,254.7" fill="#f4eef3" />
<path d="M707.5,245.5 L713.5,246.3 L713,255.5 L707,254.7 Z" fill="none" stroke="#c04fa8" stroke-width="0.9"/>
<polyline points="709.0,242.0 708.5,245.5" fill="none" stroke="#c04fa8" stroke-width="0.8" />
<polyline points="713.8,242.0 713.0,246.1" fill="none" stroke="#c04fa8" stroke-width="0.8" />
<defs><filter id="ga" filterUnits="userSpaceOnUse" x="0" y="0" width="1024" height="512"><feOffset dx="0" dy="0"/></filter></defs><g filter="url(#ga)">
<rect x="122.0" y="319.4" width="166.0" height="19.4" fill="#1b7e87" />
<ellipse cx="288.1" cy="328.7" rx="15.2" ry="15.2" fill="#1b7e87" />
<text x="139.7" y="333.6" font-size="13" font-weight="bold" fill="#ffffff" textLength="111.8" lengthAdjust="spacingAndGlyphs" stroke="#ffffff" stroke-width="0.45" stroke-linejoin="round">UHF (3-10 FEET)</text>
<polygon points="283.0,320.0 291.2,320.0 291.2,338.3 287.0,338.3 287.0,323.5 283.0,323.5" fill="#ffffff" />
<text x="122.7" y="360.8" font-size="12.5" font-weight="normal" fill="#ececec" textLength="172.9" lengthAdjust="spacingAndGlyphs" >Locate the last-seen location of</text>
<text x="122.7" y="375.6" font-size="12.5" font-weight="normal" fill="#ececec" textLength="173.5" lengthAdjust="spacingAndGlyphs" >patients easily with strategically</text>
<text x="122.7" y="390.3" font-size="12.5" font-weight="normal" fill="#ececec" textLength="85.6" lengthAdjust="spacingAndGlyphs" >placed readers.</text>
<rect x="642.0" y="351.0" width="254.1" height="20.2" fill="#cfbd2e" />
<ellipse cx="642.2" cy="361.0" rx="15.3" ry="15.3" fill="#cfbd2e" />
<text x="664.2" y="366.0" font-size="13" font-weight="bold" fill="#ffffff" textLength="221.0" lengthAdjust="spacingAndGlyphs" stroke="#ffffff" stroke-width="0.45" stroke-linejoin="round">HIGH FREQUENCY (1-2 INCHES)</text>
<text x="643.3" y="369.7" font-size="26.6" font-weight="bold" fill="#fff" text-anchor="middle">2</text>
<text x="673.6" y="387.7" font-size="12.5" font-weight="normal" fill="#ececec" textLength="220.3" lengthAdjust="spacingAndGlyphs" >Register and identify patients accurately</text>
<text x="673.6" y="402.0" font-size="12.5" font-weight="normal" fill="#ececec" textLength="160.0" lengthAdjust="spacingAndGlyphs" >with handheld tablet readers.</text>
<rect x="722.0" y="136.3" width="228.2" height="20.3" fill="#ba509f" />
<ellipse cx="722.2" cy="146.3" rx="15.3" ry="15.3" fill="#ba509f" />
<text x="750.4" y="151.0" font-size="13" font-weight="bold" fill="#ffffff" textLength="178.0" lengthAdjust="spacingAndGlyphs" stroke="#ffffff" stroke-width="0.45" stroke-linejoin="round">ACTIVE (UP TO 300 FEET)</text>
<text x="722" y="155.8" font-size="26.6" font-weight="bold" fill="#fff" text-anchor="middle">3</text>
<text x="747.7" y="172.2" font-size="12.5" font-weight="normal" fill="#ececec" textLength="174.6" lengthAdjust="spacingAndGlyphs" >Locate personnel in real-time to</text>
<text x="747.7" y="187.2" font-size="12.5" font-weight="normal" fill="#ececec" textLength="201.7" lengthAdjust="spacingAndGlyphs" >ensure safety and boost productivity.</text>
</g>
</svg>
</body></html>
